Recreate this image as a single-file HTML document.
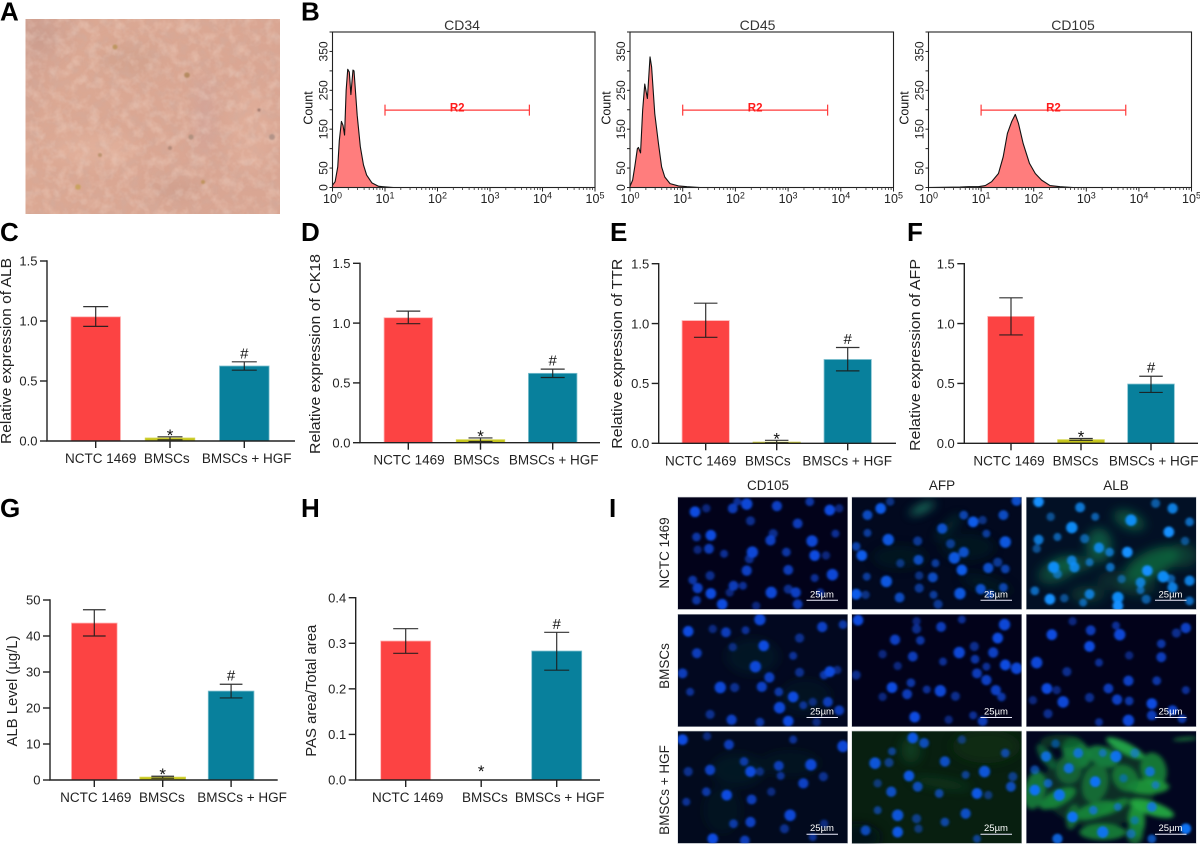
<!DOCTYPE html>
<html lang="en">
<head>
<meta charset="utf-8">
<title>BMSC characterisation figure</title>
<style>
html,body{margin:0;padding:0;background:#fff;}
svg#figure{display:block;font-family:"Liberation Sans",Arial,sans-serif;}
.letter{font-size:26px;font-weight:bold;fill:#000;}
.head{font-size:13.5px;fill:#222;text-anchor:middle;}
</style>
</head>
<body>
<svg id="figure" xmlns="http://www.w3.org/2000/svg" width="1200" height="844" viewBox="0 0 1200 844">
  <defs>
    <filter id="soft" x="-30%" y="-30%" width="160%" height="160%"><feGaussianBlur stdDeviation="3.4"/></filter>
    <filter id="mid" x="-30%" y="-30%" width="160%" height="160%"><feGaussianBlur stdDeviation="6"/></filter>
    <filter id="softer" x="-60%" y="-60%" width="220%" height="220%"><feGaussianBlur stdDeviation="14"/></filter>
    <filter id="blotch" x="-60%" y="-60%" width="220%" height="220%"><feGaussianBlur stdDeviation="8"/></filter>
    <filter id="speck" x="-60%" y="-60%" width="220%" height="220%"><feGaussianBlur stdDeviation="0.9"/></filter>
    <filter id="grain" x="0" y="0" width="100%" height="100%">
      <feTurbulence type="fractalNoise" baseFrequency="0.1" numOctaves="3" seed="7"/>
      <feColorMatrix type="matrix" values="0 0 0 0 0.62  0 0 0 0 0.42  0 0 0 0 0.36  2.4 0 0 0 -1"/>
    </filter>
    <filter id="grainLight" x="0" y="0" width="100%" height="100%">
      <feTurbulence type="fractalNoise" baseFrequency="0.09" numOctaves="3" seed="23"/>
      <feColorMatrix type="matrix" values="0 0 0 0 0.93  0 0 0 0 0.74  0 0 0 0 0.64  0 2.4 0 0 -1"/>
    </filter>
    <linearGradient id="phaseShade" x1="0" y1="0" x2="1" y2="0.4">
      <stop offset="0" stop-color="#cf9f90"/>
      <stop offset="0.25" stop-color="#dba893"/>
      <stop offset="1" stop-color="#d9a693"/>
    </linearGradient>
    <clipPath id="phaseClip"><rect x="25.5" y="19" width="254.5" height="195"/></clipPath>
  </defs>
  <rect width="1200" height="844" fill="#fff"/>

  <text class="letter" x="0" y="20.5">A</text>
  <text class="letter" x="301" y="20.5">B</text>
  <text class="letter" x="0" y="241">C</text>
  <text class="letter" x="301" y="241">D</text>
  <text class="letter" x="610" y="241">E</text>
  <text class="letter" x="907" y="241">F</text>
  <text class="letter" x="0" y="517">G</text>
  <text class="letter" x="301" y="517">H</text>
  <text class="letter" x="609" y="517">I</text>

  <g clip-path="url(#phaseClip)">
    <rect x="25.5" y="19" width="254.5" height="195" fill="url(#phaseShade)"/>
    <g filter="url(#blotch)" opacity="0.6">
      <ellipse cx="95" cy="150" rx="42" ry="15" fill="#e6b6a0"/>
      <ellipse cx="250" cy="130" rx="22" ry="45" fill="#e2b09c"/>
      <ellipse cx="42" cy="38" rx="18" ry="14" fill="#c69a8c"/>
      <ellipse cx="130" cy="60" rx="32" ry="16" fill="#cfa08c"/>
      <ellipse cx="205" cy="115" rx="6" ry="42" fill="#c9a0a0"/>
      <ellipse cx="175" cy="190" rx="28" ry="9" fill="#c79a8a"/>
    </g>
    <rect x="25.5" y="19" width="254.5" height="195" filter="url(#grain)" opacity="0.4"/>
    <rect x="25.5" y="19" width="254.5" height="195" filter="url(#grainLight)" opacity="0.3"/>
    <g filter="url(#speck)" opacity="0.75">
      <circle cx="115" cy="47" r="2.5" fill="#b58f50"/>
      <circle cx="187" cy="75" r="2.8" fill="#a8804f"/>
      <circle cx="191" cy="137" r="2.6" fill="#a58a78"/>
      <circle cx="78" cy="187" r="2.8" fill="#c4a050"/>
      <circle cx="203" cy="182" r="2" fill="#b89050"/>
      <circle cx="272" cy="137" r="3" fill="#a58a80"/>
      <circle cx="259" cy="110" r="1.6" fill="#8f6a60"/>
      <circle cx="170" cy="148" r="2" fill="#a58070"/>
      <circle cx="100" cy="155" r="2" fill="#b08a60"/>
    </g>
  </g>

  <text class="head" x="768" y="490">CD105</text>
  <text class="head" x="942" y="490">AFP</text>
  <text class="head" x="1116" y="490">ALB</text>
  <text class="head" transform="translate(669,553) rotate(-90)">NCTC 1469</text>
  <text class="head" transform="translate(669,666) rotate(-90)">BMSCs</text>
  <text class="head" transform="translate(669,790) rotate(-90)">BMSCs + HGF</text>

  <g id="flow-layer"></g>
  <g id="bar-layer"></g>
  <g id="micro-layer"></g>
</svg>

<script>
/* ---------- bar chart data ---------- */
const categories = ['NCTC 1469', 'BMSCs', 'BMSCs + HGF'];
const significance = ['', '*', '#'];

const albMeans = [1.035, 0.025, 0.625];
const albUpper = [1.12, 0.035, 0.66];
const albLower = [0.955, 0.01, 0.59];

const ck18Means = [1.045, 0.025, 0.58];
const ck18Upper = [1.10, 0.04, 0.615];
const ck18Lower = [0.995, 0.01, 0.545];

const ttrMeans = [1.025, 0.01, 0.70];
const ttrUpper = [1.17, 0.025, 0.80];
const ttrLower = [0.885, 0.005, 0.605];

const afpMeans = [1.06, 0.03, 0.495];
const afpUpper = [1.215, 0.04, 0.56];
const afpLower = [0.905, 0.025, 0.425];

const albLevelMeans = [43.6, 0.8, 24.7];
const albLevelUpper = [47.3, 1.05, 26.6];
const albLevelLower = [40, 0.5, 22.8];

const pasMeans = [0.305, 0, 0.283];
const pasUpper = [0.332, 0.015, 0.324];
const pasLower = [0.278, 0, 0.241];

const relativeTicks = [0, 0.5, 1, 1.5];
const relativeTickLabels = ['0.0', '0.5', '1.0', '1.5'];
const albLevelTicks = [0, 10, 20, 30, 40, 50];
const albLevelTickLabels = ['0', '10', '20', '30', '40', '50'];
const pasTicks = [0, 0.1, 0.2, 0.3, 0.4];
const pasTickLabels = ['0.0', '0.1', '0.2', '0.3', '0.4'];

/* ---------- flow cytometry data ---------- */
const cd34LogX = [0, .05, .1, .13, .17, .2, .23, .26, .29, .32, .35, .39, .41, .47, .53, .59, .65, .75, .88, 1.16];
const cd34Counts = [6, 15, 53, 121, 170, 160, 135, 250, 304, 297, 239, 302, 300, 186, 105, 58, 32, 12, 3, 0];
const cd45LogX = [0, .05, .09, .14, .16, .2, .24, .28, .33, .38, .41, .47, .54, .6, .66, .76, .92, 1.08, 1.33];
const cd45Counts = [3, 19, 53, 100, 103, 89, 199, 266, 229, 336, 310, 190, 113, 53, 27, 10, 4, 2, 0];
const cd105LogX = [0, .6, .76, .95, 1.08, 1.2, 1.33, 1.42, 1.5, 1.58, 1.65, 1.71, 1.8, 1.92, 2.03, 2.15, 2.31, 2.5, 2.75];
const cd105Counts = [0, 1, 2, 2, 5, 15, 36, 79, 139, 169, 188, 165, 113, 62, 36, 19, 5, 2, 0];
const flowCountLabels = [0, 50, 150, 250, 350];
const flowCountTicks = [0, 50, 100, 150, 200, 250, 300, 350, 400];
const flowDecades = [0, 1, 2, 3, 4, 5];
const gateRange = [1, 3.75];
const gateCount = [199];

/* ---------- helpers ---------- */
const NS = 'http://www.w3.org/2000/svg';
function el(tag, attrs, parent, text) {
  const node = document.createElementNS(NS, tag);
  for (const key in attrs) node.setAttribute(key, attrs[key]);
  if (text !== undefined) node.textContent = text;
  parent.appendChild(node);
  return node;
}
function slug(s) { return s.toLowerCase().replace(/[^a-z0-9]+/g, '-').replace(/^-|-$/g, ''); }

/* ---------- bar charts ---------- */
const barFill = ['#fc4343', '#c6c61e', '#08809c'];
const barEdge = ['#ffb4b4', '#d6d64a', '#7fc0cf'];
const INK = '#222';

function drawBarChart(cfg) {
  const g = el('g', {}, document.getElementById('bar-layer'));
  
  
  const yScale = v => cfg.y0 - (v / cfg.max) * (cfg.y0 - cfg.yTop);
  const xScale = i => cfg.first + i * cfg.step;

  categories.forEach((cat, i) => {
    const m = cfg.means[i];
    if (m > 0) {
      const bar = el('rect', {
        x: xScale(i) - cfg.barW / 2, y: yScale(m), width: cfg.barW, height: cfg.y0 - yScale(m),
        fill: barFill[i], stroke: barEdge[i], 'stroke-width': 0.8
      }, g);
      
      
      const err = el('path', {
        d: 'M' + (xScale(i) - cfg.cap / 2) + ' ' + yScale(cfg.upper[i]) + 'h' + cfg.cap +
           'M' + xScale(i) + ' ' + yScale(cfg.upper[i]) + 'V' + yScale(cfg.lower[i]) +
           'M' + (xScale(i) - cfg.cap / 2) + ' ' + yScale(cfg.lower[i]) + 'h' + cfg.cap,
        stroke: '#1c1c1c', 'stroke-width': 1.2, fill: 'none', opacity: 0.9
      }, g);
      
      
    }
    if (significance[i]) {
      const isStar = significance[i] === '*';
      const mark = el('text', {
        x: xScale(i), y: yScale(cfg.upper[i]) + (isStar ? 4 : -3.5),
        'text-anchor': 'middle', 'font-size': isStar ? 17 : 15, fill: '#111'
      }, g, significance[i]);
      
      
    }
    const tick = el('line', { x1: xScale(i), x2: xScale(i), y1: cfg.y0, y2: cfg.y0 + 7, stroke: INK, 'stroke-width': 1.4 }, g);
    
    
    const lab = el('text', {
      x: xScale(i) + cfg.labelShift[i], y: cfg.y0 + cfg.labelDrop, 'text-anchor': 'middle', 'font-size': 13.5, fill: INK
    }, g, cat);
    
    
  });

  const axes = el('path', {
    d: 'M' + cfg.xAxis + ' ' + (cfg.yTop - 0.7) + 'V' + cfg.y0 + 'H' + cfg.xEnd,
    stroke: INK, 'stroke-width': 1.4, fill: 'none'
  }, g);
  
  

  cfg.ticks.forEach((t, i) => {
    const tk = el('line', { x1: cfg.xAxis - 7, x2: cfg.xAxis, y1: yScale(t), y2: yScale(t), stroke: INK, 'stroke-width': 1.4 }, g);
    
    
    const tl = el('text', {
      x: cfg.xAxis - 9.5, y: yScale(t) + 4.7, 'text-anchor': 'end', 'font-size': 13, fill: INK
    }, g, cfg.tickLabels[i]);
    
    
  });

  const title = el('text', {
    transform: 'translate(' + cfg.titleX + ',' + cfg.titleY + ') rotate(-90)',
    'text-anchor': 'middle', 'font-size': 15, fill: INK,
    textLength: cfg.titleLen, lengthAdjust: 'spacingAndGlyphs'
  }, g, cfg.title);
  
  
}

drawBarChart({ id: 'alb', title: 'Relative expression of ALB', means: albMeans, upper: albUpper, lower: albLower,
  ticks: relativeTicks, tickLabels: relativeTickLabels, max: 1.5,
  xAxis: 47, xEnd: 295, yTop: 261, y0: 441, first: 95.7, step: 74.3, barW: 49.6, cap: 25, labelDrop: 22, labelShift: [5, -3.3, 2.4],
  titleX: 11, titleY: 351, titleLen: 186 });
drawBarChart({ id: 'ck18', title: 'Relative expression of  CK18', means: ck18Means, upper: ck18Upper, lower: ck18Lower,
  ticks: relativeTicks, tickLabels: relativeTickLabels, max: 1.5,
  xAxis: 360, xEnd: 600, yTop: 263.3, y0: 442.7, first: 408.3, step: 72.2, barW: 48.5, cap: 24, labelDrop: 22, labelShift: [0.7, -4, 1],
  titleX: 320, titleY: 354, titleLen: 200 });
drawBarChart({ id: 'ttr', title: 'Relative expression of  TTR', means: ttrMeans, upper: ttrUpper, lower: ttrLower,
  ticks: relativeTicks, tickLabels: relativeTickLabels, max: 1.5,
  xAxis: 658.7, xEnd: 896, yTop: 263.7, y0: 443.3, first: 705.7, step: 71, barW: 47.3, cap: 23.5, labelDrop: 22, labelShift: [-5, -9, -0.5],
  titleX: 622, titleY: 353.7, titleLen: 190 });
drawBarChart({ id: 'afp', title: 'Relative expression of  AFP', means: afpMeans, upper: afpUpper, lower: afpLower,
  ticks: relativeTicks, tickLabels: relativeTickLabels, max: 1.5,
  xAxis: 964.3, xEnd: 1198, yTop: 263.7, y0: 443.3, first: 1011, step: 70, barW: 46.7, cap: 23.5, labelDrop: 22, labelShift: [-2, -5.5, 2.7],
  titleX: 920, titleY: 355, titleLen: 192 });
drawBarChart({ id: 'alb-level', title: 'ALB Level (\u00b5g/L)', means: albLevelMeans, upper: albLevelUpper, lower: albLevelLower,
  ticks: albLevelTicks, tickLabels: albLevelTickLabels, max: 50,
  xAxis: 50, xEnd: 277.7, yTop: 600, y0: 780, first: 94.3, step: 68.4, barW: 45.7, cap: 22.7, labelDrop: 22, labelShift: [1.5, -0.8, 11],
  titleX: 17, titleY: 691, titleLen: 111 });
drawBarChart({ id: 'pas', title: 'PAS area/Total area', means: pasMeans, upper: pasUpper, lower: pasLower,
  ticks: pasTicks, tickLabels: pasTickLabels, max: 0.4,
  xAxis: 355.7, xEnd: 600, yTop: 597.7, y0: 780, first: 405.7, step: 75.5, barW: 50, cap: 25, labelDrop: 22, labelShift: [2, 3.7, 3],
  titleX: 316, titleY: 690.7, titleLen: 132 });

/* ---------- flow cytometry ---------- */
function drawFlow(cfg) {
  const g = el('g', {}, document.getElementById('flow-layer'));
  
  
  const top = 32, bottom = 187.5;
  const xScale = v => cfg.left + (v / 5) * (cfg.right - cfg.left);
  const yScale = c => bottom - (c / 400) * (bottom - top);

  const t = el('text', { x: cfg.titleX, y: 30, 'text-anchor': 'middle', 'font-size': 14, fill: '#333' }, g, cfg.title);
  
  

  let d = 'M' + xScale(cfg.logX[0]) + ' ' + bottom;
  cfg.logX.forEach((v, i) => { d += 'L' + xScale(v).toFixed(2) + ' ' + yScale(cfg.counts[i]).toFixed(2); });
  d += 'L' + xScale(cfg.logX[cfg.logX.length - 1]) + ' ' + bottom + 'Z';
  const area = el('path', { d: d, fill: '#ff7d7d', stroke: '#111', 'stroke-width': 1.1, 'stroke-linejoin': 'round' }, g);
  
  

  const box = el('rect', { x: cfg.left, y: top, width: cfg.right - cfg.left, height: bottom - top, fill: 'none', stroke: '#222', 'stroke-width': 1.1 }, g);
  
  

  flowCountTicks.forEach(c => {
    const tk = el('line', { x1: cfg.left - 3, x2: cfg.left, y1: yScale(c), y2: yScale(c), stroke: '#222', 'stroke-width': 1 }, g);
    
    
  });
  flowCountLabels.forEach(c => {
    const lb = el('text', {
      transform: 'translate(' + (cfg.left - 5) + ',' + yScale(c) + ') rotate(-90)',
      'text-anchor': 'middle', 'font-size': 12, fill: '#222'
    }, g, String(c));
    
    
  });
  const ct = el('text', {
    transform: 'translate(' + cfg.countX + ',108) rotate(-90)', 'text-anchor': 'middle', 'font-size': 12.5, fill: '#111'
  }, g, 'Count');
  
  

  flowDecades.forEach(dec => {
    const mj = el('line', { x1: xScale(dec), x2: xScale(dec), y1: bottom, y2: bottom + 4, stroke: '#222', 'stroke-width': 1 }, g);
    
    
    const lb = el('text', { x: xScale(dec), y: 203, 'text-anchor': 'middle', 'font-size': 12.5, fill: '#222' }, g);
    
    
    el('tspan', {}, lb, '10');
    el('tspan', { 'font-size': 9, dy: -4.5 }, lb, String(dec));
    if (dec < 5) {
      [2, 3, 4, 5, 6, 7, 8, 9].forEach(m => {
        const xm = xScale(dec + Math.log10(m));
        const mn = el('line', { x1: xm, x2: xm, y1: bottom, y2: bottom + 2.5, stroke: '#333', 'stroke-width': 0.8 }, g);
        
        
      });
    }
  });

  const gx0 = xScale(gateRange[0]), gx1 = xScale(gateRange[1]), gy = yScale(gateCount[0]);
  const gate = el('path', {
    d: 'M' + gx0 + ' ' + (gy - 5.5) + 'v11M' + gx1 + ' ' + (gy - 5.5) + 'v11M' + gx0 + ' ' + gy + 'H' + gx1,
    stroke: '#ff3a3a', 'stroke-width': 1.2, fill: 'none'
  }, g);
  
  
  const r2 = el('text', {
    x: (gx0 + gx1) / 2, y: gy + 1.5, 'text-anchor': 'middle', 'font-size': 11.5, 'font-weight': 'bold', fill: '#ff1a1a'
  }, g, 'R2');
  
  
}
drawFlow({ title: 'CD34', logX: cd34LogX, counts: cd34Counts, left: 332.5, right: 595, titleX: 462, countX: 312.5 });
drawFlow({ title: 'CD45', logX: cd45LogX, counts: cd45Counts, left: 630, right: 893.5, titleX: 757.5, countX: 610.5 });
drawFlow({ title: 'CD105', logX: cd105LogX, counts: cd105Counts, left: 928.5, right: 1191.5, titleX: 1073, countX: 908.5 });

/* ---------- immunofluorescence grid ---------- */
const micrographs = [
 { id:'nctc-cd105', col:0,row:0,nuc:'#0e4be0',tint:'#02021a',gf:'softer', n:[[228,125],[258,115],[328,115],[340,95],[365,102],[375,152],[445,108],[532,95],[585,120],[610,115],[500,160],[600,190],[538,212],[435,190],[428,210],[232,200],[270,195],[235,238],[265,235],[305,250],[380,245],[372,265],[365,300],[470,245],[545,255],[575,255],[475,298],[545,322],[592,312],[268,315],[235,352],[222,328],[270,368],[320,365],[330,345],[355,345],[430,365],[475,355],[495,365],[232,388],[300,400],[390,405],[500,400],[560,365]], g:[] },
 { id:'nctc-afp', col:1,row:0,nuc:'#0f5cea',tint:'#02091f',gf:'softer', n:[[720,115],[745,95],[685,135],[685,188],[740,208],[818,212],[883,175],[940,135],[965,155],[990,150],[1045,135],[1000,190],[1050,215],[905,220],[940,245],[655,228],[670,255],[772,278],[820,268],[865,278],[915,262],[1030,275],[1005,292],[1050,295],[935,298],[822,315],[858,320],[683,318],[735,332],[822,352],[985,355],[1010,370],[655,370],[680,372],[770,380],[860,372],[930,368],[872,400],[1080,92],[1045,350]],
   g:[[830,115,36,7,-30,'#2fd098',.9],[900,170,50,10,-50,'#157a4a',.35],[770,260,70,35,0,'#0b3a24',.25],[1000,340,70,25,20,'#0b3a24',.25],[950,230,70,40,0,'#0a3a24',.25]] },
 { id:'nctc-alb', col:2,row:0,nuc:'#1290ff',tint:'#021025',gf:'softer', n:[[1140,95],[1172,140],[1250,112],[1290,140],[1385,150],[1450,100],[1495,115],[1540,155],[1485,185],[1528,212],[1140,208],[1190,200],[1228,172],[1262,205],[1300,232],[1328,245],[1375,245],[1135,235],[1228,270],[1275,275],[1180,290],[1190,310],[1235,290],[1330,290],[1428,300],[1360,325],[1410,335],[1410,358],[1470,318],[1490,325],[1495,350],[1130,360],[1170,385],[1208,382],[1275,370],[1258,395],[1350,380],[1425,385],[1540,330],[1540,390],[1350,405]],
   g:[[1380,150,45,26,30,'#16804a',.55],[1440,280,80,38,-30,'#178a48',.6],[1520,255,42,36,0,'#156a40',.45],[1300,225,34,52,0,'#178a58',.55],[1190,300,55,34,-30,'#167a4c',.5],[1270,370,45,26,0,'#116a42',.4],[1230,280,55,26,0,'#167a4c',.45],[1400,345,50,30,0,'#156a40',.4],[1340,330,45,30,0,'#125c3c',.35]] },
 { id:'bmscs-cd105', col:0,row:1,nuc:'#0e4be0',tint:'#020820',gf:'softer', n:[[210,485],[275,478],[310,488],[362,482],[400,450],[505,505],[565,472],[620,465],[410,528],[328,532],[233,550],[488,558],[388,590],[505,607],[425,622],[570,615],[585,605],[605,600],[195,610],[215,665],[295,652],[333,652],[405,650],[450,665],[488,680],[540,695],[580,695],[515,705],[452,712],[268,732],[325,748],[400,755],[475,752],[550,755],[610,720]],
   g:[[380,560,70,55,0,'#0a3a2c',.25],[520,680,70,55,0,'#08302a',.2]] },
 { id:'bmscs-afp', col:1,row:1,nuc:'#0e4be0',tint:'#02021a',gf:'softer', n:[[660,452],[815,455],[880,472],[935,450],[1048,465],[815,478],[758,510],[825,512],[1030,505],[725,553],[805,560],[885,575],[928,548],[968,530],[1018,548],[970,568],[1050,585],[765,588],[975,610],[1000,590],[1080,595],[655,615],[1000,630],[800,638],[750,652],[725,680],[790,672],[842,658],[878,662],[918,678],[1025,660],[1040,680],[810,740],[900,748],[990,752],[965,735]], g:[] },
 { id:'bmscs-alb', col:2,row:1,nuc:'#0e4be0',tint:'#02021a',gf:'softer', n:[[1175,495],[1230,455],[1278,482],[1345,468],[1355,495],[1505,490],[1530,475],[1465,522],[1275,530],[1380,557],[1465,562],[1300,578],[1135,578],[1215,605],[1378,632],[1453,632],[1162,655],[1188,660],[1325,655],[1530,660],[1205,695],[1275,682],[1348,688],[1380,692],[1440,700],[1125,690],[1440,735],[1300,755],[1378,750],[1165,730],[1495,720],[1520,745]], g:[] },
 { id:'hgf-cd105', col:0,row:2,nuc:'#0e4be0',tint:'#020a1e',gf:'softer', n:[[195,810],[260,800],[318,825],[488,810],[620,830],[210,905],[268,900],[358,875],[375,905],[400,905],[450,888],[455,918],[535,885],[568,920],[515,940],[258,965],[312,975],[430,965],[378,988],[205,995],[480,1035],[465,1075],[375,1055],[330,1060],[275,1105],[570,1060],[360,1110],[540,1100]],
   g:[[340,900,70,50,0,'#0a3a2c',.25],[480,880,80,40,0,'#0a3028',.2],[300,1020,50,70,0,'#08302a',.2]] },
 { id:'hgf-afp', col:1,row:2,nuc:'#0f58e4',tint:'#081f10',gf:'softer', n:[[805,805],[935,810],[835,820],[750,845],[705,880],[742,878],[890,875],[1050,850],[795,918],[712,940],[818,950],[945,915],[995,905],[1070,920],[748,965],[875,970],[975,970],[1005,975],[1065,950],[712,1020],[765,1035],[815,1045],[945,1030],[890,1055],[765,1085],[820,1075],[680,1080],[975,1105]],
   g:[[1000,830,90,50,0,'#103512',.5],[800,840,25,40,0,'#1a6a38',.4],[880,940,80,14,10,'#1a6a38',.3],[660,1100,60,40,0,'#020c1c',.8]] },
 { id:'hgf-alb', col:2,row:2,nuc:'#0c72f4',tint:'#020620',gf:'mid', n:[[1130,960],[1185,822],[1245,850],[1310,850],[1345,860],[1395,850],[1220,895],[1165,940],[1290,935],[1365,925],[1435,905],[1450,945],[1195,975],[1130,900],[1160,860],[1285,1020],[1230,1040],[1395,1050],[1440,1010],[1350,1010],[1310,1085],[1385,1090],[1190,1105],[1440,1105],[1530,1075]],
   g:[[1300,950,150,120,0,'#0a3e28',.7],[1130,960,28,58,10,'#16803a',.9],[1190,985,54,22,-30,'#1a8a3a',.9],[1160,860,16,42,-30,'#15703a',.75],[1240,850,34,48,-30,'#1a8a40',.85],[1310,860,44,28,30,'#1a8a42',.85],[1370,835,58,16,30,'#24a848',.95],[1445,900,34,52,-10,'#1a8a3a',.85],[1430,950,56,22,0,'#1c9a3c',.9],[1290,940,34,58,10,'#157a3a',.8],[1370,925,32,42,-30,'#168038',.85],[1220,900,34,42,0,'#157038',.8],[1290,1020,56,22,-20,'#1a8a3a',.9],[1230,1040,16,38,10,'#157a3a',.8],[1400,1050,22,52,0,'#1c9a3c',.9],[1440,1015,62,20,20,'#22a840',.95],[1340,1010,44,14,-30,'#1a8a3a',.85],[1310,1085,62,24,0,'#1a8a3a',.85],[1395,1090,22,32,0,'#157a3a',.8],[1528,808,32,5,-5,'#1c8a3c',.85],[1200,815,55,20,0,'#0c5028',.6]] }
];
const colX = [[183, 678], [644, 852], [1108, 1026.5]];
const rowY = [[82, 497.3], [435, 614.5], [785, 731.2]];
const panelW = 169.5, panelH = 112;
const nucleusSize = [14, 11, 13, 10.5, 15, 12, 13.5, 11.5];
const nucleusGlow = [1, .62, .85, .5, .95, .7, .8, .58];

micrographs.forEach(m => {
  const root = document.getElementById('micro-layer');
  const frame = el('rect', { x: colX[m.col][1] - 0.5, y: rowY[m.row][1] - 0.5, width: panelW + 1, height: panelH + 1, fill: '#c8ccd0' }, root);
  
  
  const s = el('svg', {
    x: colX[m.col][1], y: rowY[m.row][1], width: panelW, height: panelH,
    viewBox: colX[m.col][0] + ' ' + rowY[m.row][0] + ' 449 333', preserveAspectRatio: 'none'
  }, root);
  
  
  el('rect', { x: colX[m.col][0], y: rowY[m.row][0], width: 449, height: 333, fill: m.tint }, s);
  const greens = el('g', { filter: 'url(#' + m.gf + ')' }, s);
  
  
  m.g.forEach(c => {
    el('ellipse', {
      cx: c[0], cy: c[1], rx: c[2], ry: c[3], fill: c[5], opacity: c[6],
      transform: 'rotate(' + c[4] + ' ' + c[0] + ' ' + c[1] + ')'
    }, greens);
  });
  const nuclei = el('g', { filter: 'url(#soft)', fill: m.nuc }, s);
  
  
  m.n.forEach((p, i) => {
    const size = nucleusSize[i % nucleusSize.length];
    el('ellipse', { cx: p[0], cy: p[1], rx: size, ry: size * 1.15, opacity: nucleusGlow[(i * 3) % nucleusGlow.length] }, nuclei);
  });

  const px = colX[m.col][1], py = rowY[m.row][1];
  const bar = el('line', { x1: px + 128.5, x2: px + 160, y1: py + 103, y2: py + 103, stroke: '#eef', 'stroke-width': 1 }, root);
  
  
  const lab = el('text', {
    x: px + 144, y: py + 100, 'text-anchor': 'middle', 'font-size': 9.5, fill: '#fff'
  }, root, '25\u00b5m');
  
  
});
</script>
</body>
</html>
